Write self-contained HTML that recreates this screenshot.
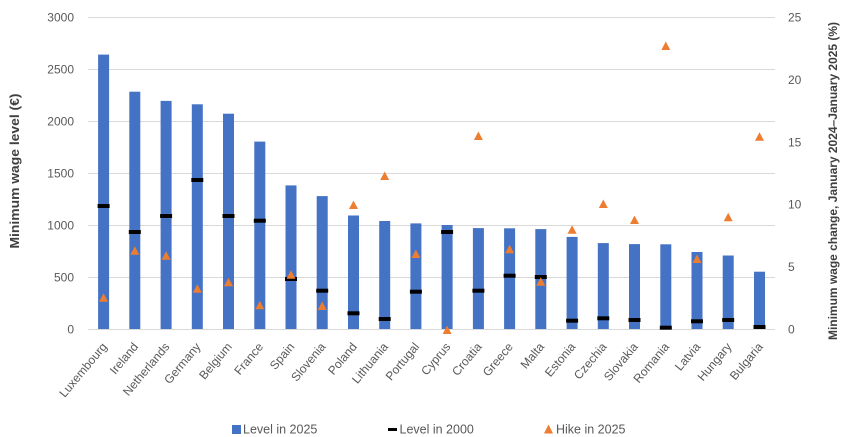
<!DOCTYPE html>
<html><head><meta charset="utf-8"><style>
html,body{margin:0;padding:0;background:#fff;}
svg{display:block;}
text{font-family:"Liberation Sans",Arial,sans-serif;}
</style></head><body>
<svg width="850" height="437" viewBox="0 0 850 437" xmlns="http://www.w3.org/2000/svg">
<rect width="850" height="437" fill="#fff"/>
<g stroke="#d9d9d9" stroke-width="1">
<line x1="88" y1="17.5" x2="775" y2="17.5"/>
<line x1="88" y1="69.5" x2="775" y2="69.5"/>
<line x1="88" y1="121.5" x2="775" y2="121.5"/>
<line x1="88" y1="173.5" x2="775" y2="173.5"/>
<line x1="88" y1="225.5" x2="775" y2="225.5"/>
<line x1="88" y1="277.5" x2="775" y2="277.5"/>
<line x1="88" y1="329.5" x2="775" y2="329.5"/>
</g>
<g font-size="12" fill="#595959" text-anchor="end">
<text x="74" y="21.5">3000</text>
<text x="74" y="73.5">2500</text>
<text x="74" y="125.5">2000</text>
<text x="74" y="177.5">1500</text>
<text x="74" y="229.5">1000</text>
<text x="74" y="281.5">500</text>
<text x="74" y="333.5">0</text>
</g>
<g font-size="12" fill="#595959">
<text x="788" y="21.5">25</text>
<text x="788" y="83.9">20</text>
<text x="788" y="146.3">15</text>
<text x="788" y="208.7">10</text>
<text x="788" y="271.1">5</text>
<text x="788" y="333.5">0</text>
</g>
<text transform="translate(19,171) rotate(-90)" text-anchor="middle" font-size="13" font-weight="bold" fill="#404040" textLength="155" lengthAdjust="spacingAndGlyphs">Minimum wage level (€)</text>
<text transform="translate(837,181) rotate(-90)" text-anchor="middle" font-size="12" font-weight="bold" fill="#404040" textLength="318" lengthAdjust="spacingAndGlyphs">Minimum wage change, January 2024–January 2025 (%)</text>
<g fill="#4472C4">
<rect x="98.1" y="54.6" width="11" height="274.4"/>
<rect x="129.3" y="91.7" width="11" height="237.3"/>
<rect x="160.6" y="100.9" width="11" height="228.1"/>
<rect x="191.8" y="104.3" width="11" height="224.7"/>
<rect x="223.0" y="113.7" width="11" height="215.3"/>
<rect x="254.3" y="141.6" width="11" height="187.4"/>
<rect x="285.5" y="185.4" width="11" height="143.6"/>
<rect x="316.7" y="196.1" width="11" height="132.9"/>
<rect x="348.0" y="215.5" width="11" height="113.5"/>
<rect x="379.2" y="221.0" width="11" height="108.0"/>
<rect x="410.4" y="223.4" width="11" height="105.6"/>
<rect x="441.6" y="225.0" width="11" height="104.0"/>
<rect x="472.9" y="228.1" width="11" height="100.9"/>
<rect x="504.1" y="228.3" width="11" height="100.7"/>
<rect x="535.3" y="229.1" width="11" height="99.9"/>
<rect x="566.6" y="236.9" width="11" height="92.1"/>
<rect x="597.8" y="243.1" width="11" height="85.9"/>
<rect x="629.0" y="244.1" width="11" height="84.9"/>
<rect x="660.3" y="244.3" width="11" height="84.7"/>
<rect x="691.5" y="252.0" width="11" height="77.0"/>
<rect x="722.7" y="255.5" width="11" height="73.5"/>
<rect x="754.0" y="271.7" width="11" height="57.3"/>
</g>
<g fill="#000">
<rect x="97.6" y="204" width="12" height="4"/>
<rect x="128.8" y="230" width="12" height="4"/>
<rect x="160.1" y="214" width="12" height="4"/>
<rect x="191.3" y="178" width="12" height="4"/>
<rect x="222.5" y="214" width="12" height="4"/>
<rect x="253.8" y="218.7" width="12" height="4"/>
<rect x="285.0" y="277" width="12" height="4"/>
<rect x="316.2" y="288.7" width="12" height="4"/>
<rect x="347.5" y="311.3" width="12" height="4"/>
<rect x="378.7" y="317" width="12" height="4"/>
<rect x="409.9" y="289.7" width="12" height="4"/>
<rect x="441.1" y="230" width="12" height="4"/>
<rect x="472.4" y="288.7" width="12" height="4"/>
<rect x="503.6" y="273.7" width="12" height="4"/>
<rect x="534.8" y="275" width="12" height="4"/>
<rect x="566.1" y="318.7" width="12" height="4"/>
<rect x="597.3" y="316.3" width="12" height="4"/>
<rect x="628.5" y="318" width="12" height="4"/>
<rect x="659.8" y="325.7" width="12" height="4"/>
<rect x="691.0" y="319.3" width="12" height="4"/>
<rect x="722.2" y="318" width="12" height="4"/>
<rect x="753.5" y="325" width="12" height="4"/>
</g>
<g fill="#ED7D31">
<polygon points="99.1,301.7 108.1,301.7 103.6,293.2"/>
<polygon points="130.3,254.7 139.3,254.7 134.8,246.2"/>
<polygon points="161.6,259.7 170.6,259.7 166.1,251.2"/>
<polygon points="192.8,292.7 201.8,292.7 197.3,284.2"/>
<polygon points="224.0,286.3 233.0,286.3 228.5,277.8"/>
<polygon points="255.3,309.3 264.3,309.3 259.8,300.8"/>
<polygon points="286.5,278.7 295.5,278.7 291.0,270.2"/>
<polygon points="317.7,310 326.7,310 322.2,301.5"/>
<polygon points="349.0,209 358.0,209 353.5,200.5"/>
<polygon points="380.2,180 389.2,180 384.7,171.5"/>
<polygon points="411.4,258 420.4,258 415.9,249.5"/>
<polygon points="442.6,334 451.6,334 447.1,325.5"/>
<polygon points="473.9,140 482.9,140 478.4,131.5"/>
<polygon points="505.1,253.3 514.1,253.3 509.6,244.8"/>
<polygon points="536.3,285.7 545.3,285.7 540.8,277.2"/>
<polygon points="567.6,233.7 576.6,233.7 572.1,225.2"/>
<polygon points="598.8,208 607.8,208 603.3,199.5"/>
<polygon points="630.0,224 639.0,224 634.5,215.5"/>
<polygon points="661.3,50 670.3,50 665.8,41.5"/>
<polygon points="692.5,263 701.5,263 697.0,254.5"/>
<polygon points="723.7,221.3 732.7,221.3 728.2,212.8"/>
<polygon points="755.0,140.7 764.0,140.7 759.5,132.2"/>
</g>
<g font-size="12" fill="#595959" text-anchor="end">
<text transform="translate(107.6,347) rotate(-50)">Luxembourg</text>
<text transform="translate(138.8,347) rotate(-50)">Ireland</text>
<text transform="translate(170.1,347) rotate(-50)">Netherlands</text>
<text transform="translate(201.3,347) rotate(-50)">Germany</text>
<text transform="translate(232.5,347) rotate(-50)">Belgium</text>
<text transform="translate(263.8,347) rotate(-50)">France</text>
<text transform="translate(295.0,347) rotate(-50)">Spain</text>
<text transform="translate(326.2,347) rotate(-50)">Slovenia</text>
<text transform="translate(357.5,347) rotate(-50)">Poland</text>
<text transform="translate(388.7,347) rotate(-50)">Lithuania</text>
<text transform="translate(419.9,347) rotate(-50)">Portugal</text>
<text transform="translate(451.1,347) rotate(-50)">Cyprus</text>
<text transform="translate(482.4,347) rotate(-50)">Croatia</text>
<text transform="translate(513.6,347) rotate(-50)">Greece</text>
<text transform="translate(544.8,347) rotate(-50)">Malta</text>
<text transform="translate(576.1,347) rotate(-50)">Estonia</text>
<text transform="translate(607.3,347) rotate(-50)">Czechia</text>
<text transform="translate(638.5,347) rotate(-50)">Slovakia</text>
<text transform="translate(669.8,347) rotate(-50)">Romania</text>
<text transform="translate(701.0,347) rotate(-50)">Latvia</text>
<text transform="translate(732.2,347) rotate(-50)">Hungary</text>
<text transform="translate(763.5,347) rotate(-50)">Bulgaria</text>
</g>
<rect x="232" y="425" width="9" height="9" fill="#4472C4"/>
<text x="243" y="433.5" font-size="12.5" fill="#595959">Level in 2025</text>
<rect x="388" y="428" width="9" height="3" fill="#000"/>
<text x="399.5" y="433.5" font-size="12.5" fill="#595959">Level in 2000</text>
<polygon points="544,433.5 553,433.5 548.5,424.5" fill="#ED7D31"/>
<text x="556" y="433.5" font-size="12.5" fill="#595959">Hike in 2025</text>
</svg>
</body></html>
